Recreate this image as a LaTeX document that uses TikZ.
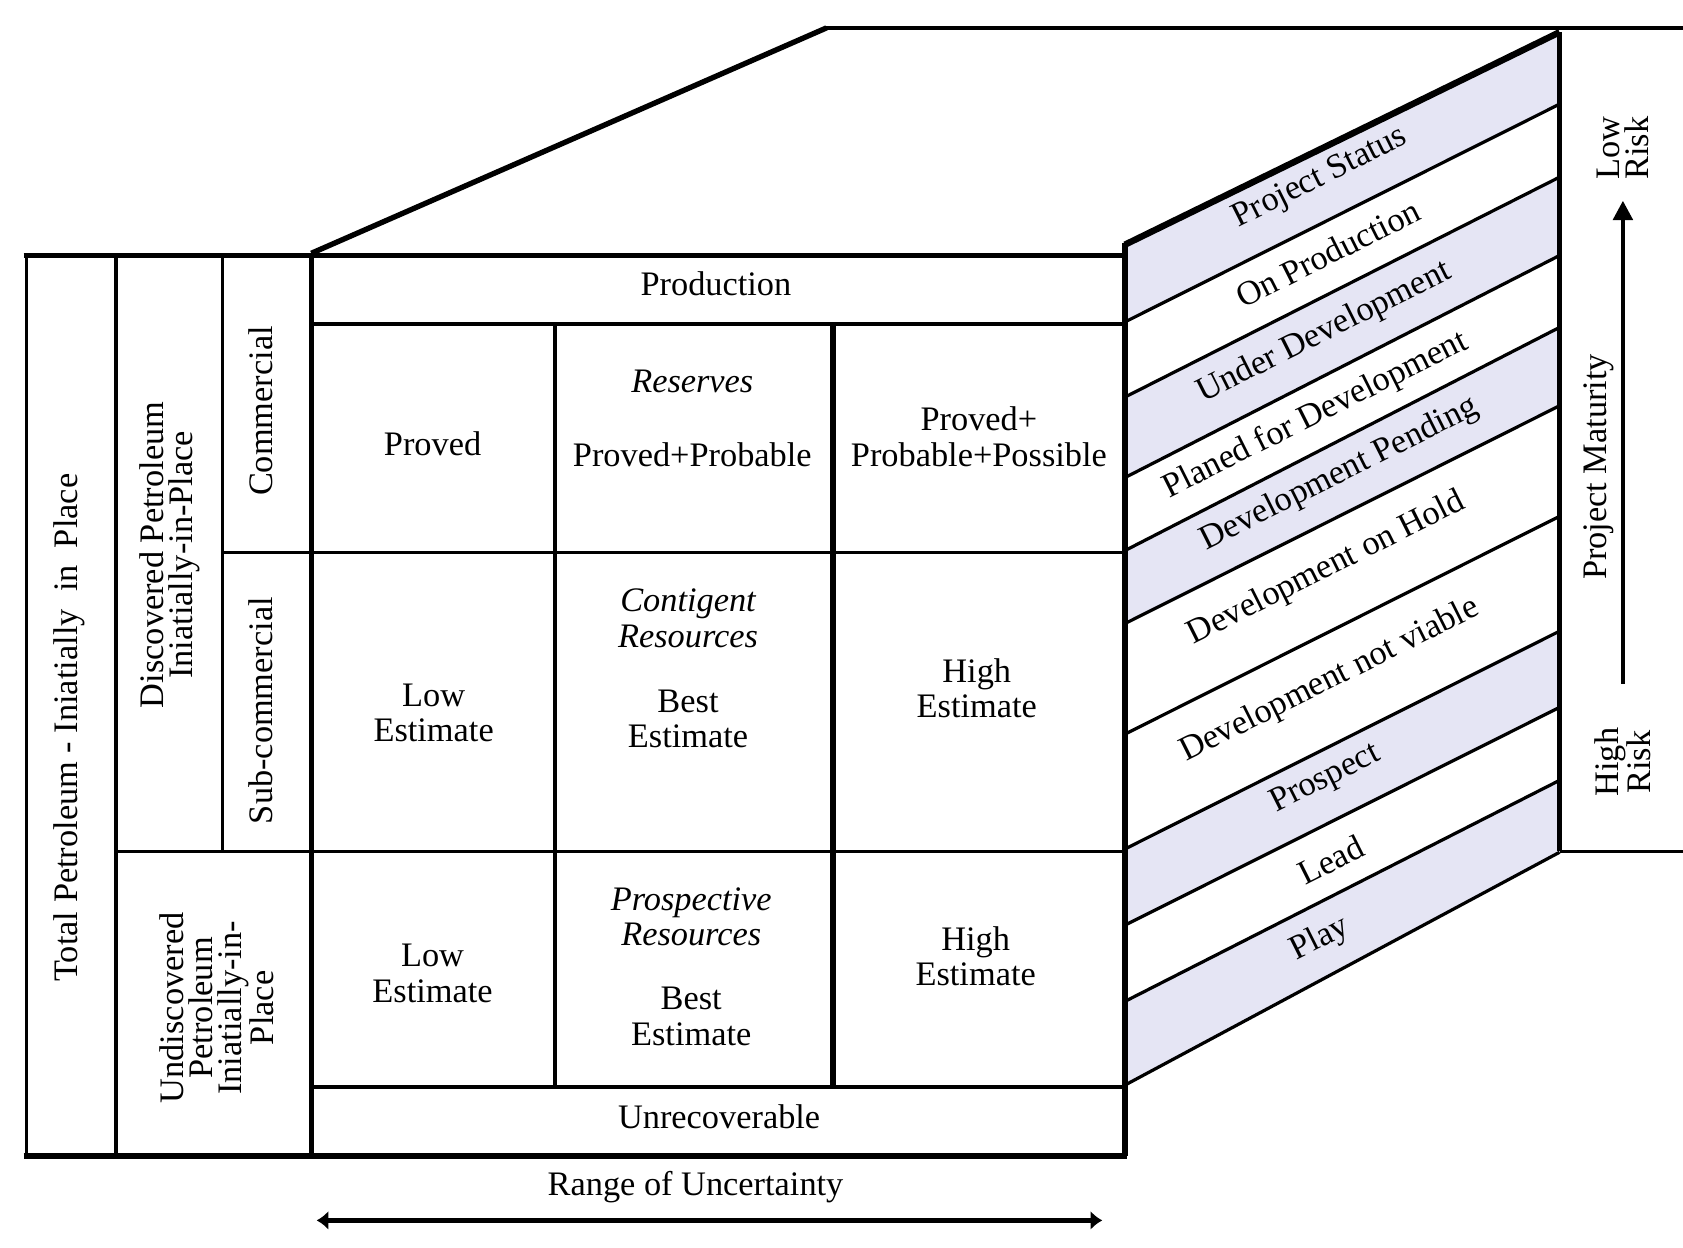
\documentclass[tikz,border=0pt]{standalone}
\usepackage{fontspec}
\setmainfont{Liberation Serif}
\usetikzlibrary{arrows.meta}
\definecolor{lav}{RGB}{229,229,244}
\begin{document}
\begin{tikzpicture}[x=1pt,y=-1pt,line join=miter,
  txt/.style={font=\fontsize{32}{33}\selectfont, align=center, inner sep=0pt},
  sidetxt/.style={font=\fontsize{32}{27}\selectfont, align=center, inner sep=0pt, rotate=90},
  stxt/.style={font=\fontsize{32}{33}\selectfont, inner sep=0pt, rotate=26.6},
  heavy/.style={line width=5pt},
  medium/.style={line width=4pt},
  light/.style={line width=3pt},
]
\useasboundingbox (0,0) rectangle (1568,1162);
% ---- right face stripes
\fill[lav] (1048,228) -- (1453,30) -- (1453,97) -- (1048,300) -- cycle;
\fill[lav] (1048,370) -- (1453,165) -- (1453,238) -- (1048,445) -- cycle;
\fill[lav] (1048,513) -- (1453,305) -- (1453,378) -- (1048,581) -- cycle;
\fill[lav] (1048,791) -- (1453,588) -- (1453,659) -- (1048,862) -- cycle;
\fill[lav] (1048,933) -- (1453,727) -- (1453,794) -- (1048,1011) -- cycle;
\foreach \l/\r in {300/97,370/165,445/238,513/305,581/378,684/481,791/588,862/659,933/727}
  \draw[light] (1048,\l) -- (1453,\r);
\draw[line width=6pt] (1048,228) -- (1453,30);
\draw[light] (1048,1011) -- (1453,794);
\draw[heavy] (1453,30) -- (1453,793);
\draw[light] (1453,793) -- (1568,793);
% ---- top
\draw[heavy] (290,236) -- (770,26);
\draw[light] (770,26) -- (1568,26);
% ---- main box
\draw[heavy] (290,236) -- (290,1077);
\draw[heavy] (290,238) -- (1048,238);
\draw[heavy] (1048,226) -- (1048,1077);
\draw[heavy] (22,1077) -- (1050,1077);
\draw[medium] (290,302) -- (1048,302);
\draw[light] (290,515) -- (1048,515);
\draw[light] (290,793) -- (1048,793);
\draw[medium] (290,1013) -- (1048,1013);
\draw[light] (517,302) -- (517,1013);
\draw[heavy] (776,302) -- (776,1013);
% ---- left boxes
\draw[heavy] (22,238) -- (290,238);
\draw[light] (25,238) -- (25,1077);
\draw[light] (108,238) -- (108,1074);
\draw[light] (207,238) -- (207,793);
\draw[light] (108,793) -- (290,793);
\draw[light] (207,515) -- (290,515);
% ---- left texts
\node[sidetxt] (tp) at (65,678) {Total Petroleum - Iniatially~~in~~Place};
\node[sidetxt] (dp) at (158,517) {Discovered Petroleum\\Iniatially-in-Place};
\node[sidetxt] (com) at (243,383) {Commercial};
\node[sidetxt] (subcom) at (243,662) {Sub-commercial};
\node[sidetxt] (up) at (202,939) {Undiscovered\\Petroleum\\Iniatially-in-\\Place};
% ---- main texts
\node[txt] (prod) at (667,264) {Production};
\node[txt] (proved) at (403,413) {Proved};
\node[txt] (res) at (645,355) {\itshape Reserves};
\node[txt] (pp) at (645,424) {Proved+Probable};
\node[txt] (ppp) at (912,407) {Proved+\\Probable+Possible};
\node[txt] (low1) at (404,664) {Low\\Estimate};
\node[txt] (cr) at (641,576) {\itshape Contigent\\\itshape Resources};
\node[txt] (best1) at (641,670) {Best\\Estimate};
\node[txt] (high1) at (910,641) {High\\Estimate};
\node[txt] (low2) at (403,907) {Low\\Estimate};
\node[txt] (pr) at (644,854) {\itshape Prospective\\\itshape Resources};
\node[txt] (best2) at (644,947) {Best\\Estimate};
\node[txt] (high2) at (909,891) {High\\Estimate};
\node[txt] (unrec) at (670,1040) {Unrecoverable};
\node[txt] (range) at (648,1106) {Range of Uncertainty};
\coordinate (ruL) at (295,1137);
\coordinate (ruR) at (1027,1137);
\draw[heavy,{Latex[length=11pt,width=18pt]}-{Latex[length=11pt,width=18pt]}] (ruL) -- (ruR);
% ---- stripe texts
\node[stxt] (s0) at (1230,166) {Project Status};
\node[stxt] (s1) at (1237,236) {On Production};
\node[stxt] (s2) at (1234,310) {Under Development};
\node[stxt] (s3) at (1226,387) {Planed for Development};
\node[stxt] (s4) at (1248,442) {Development Pending};
\node[stxt] (s5) at (1236,530) {Development on Hold};
\node[stxt] (s6) at (1239,634) {Development not viable};
\node[stxt] (s7) at (1235,726) {Prospect};
\node[stxt] (s8) at (1240,801) {Lead};
\node[stxt] (s9) at (1230,875) {Play};
% ---- right side
\node[sidetxt] (lowrisk) at (1512,138) {Low\\Risk};
\node[sidetxt] (highrisk) at (1512,710) {High\\Risk};
\node[sidetxt] (pm) at (1490,435) {Project Maturity};
\coordinate (mb) at (1512,637);
\coordinate (mt) at (1512,187);
\draw[medium,-{Triangle[length=18pt,width=18pt]}] (mb) -- (mt);
\end{tikzpicture}
\end{document}
